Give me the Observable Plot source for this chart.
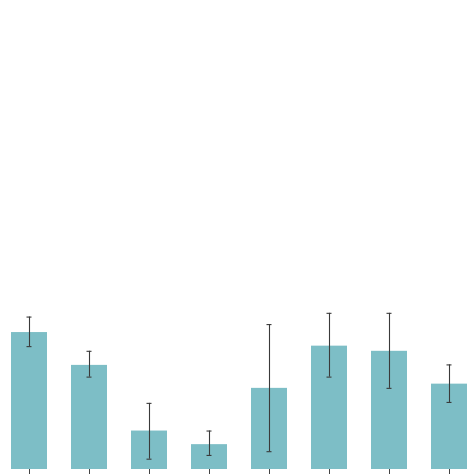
<!DOCTYPE html>
<html>
<head>
<meta charset="utf-8">
<script src="https://cdn.jsdelivr.net/npm/d3@7"></script>
<script src="https://cdn.jsdelivr.net/npm/@observablehq/plot@0.6"></script>
<style>
  html, body { margin: 0; padding: 0; background: #fff; }
  #chart svg { display: block; }
</style>
</head>
<body>
<div id="chart"></div>
<script>
const categories = ["A", "B", "C", "D", "E", "F", "G", "H"];
const values = [29.2, 22.2, 8.2, 5.3, 17.3, 26.3, 25.2, 18.2];
const errLow = [26.2, 19.7, 2.2, 3.0, 3.8, 19.7, 17.3, 14.3];
const errHigh = [32.5, 25.2, 14.1, 8.2, 30.9, 33.3, 33.3, 22.3];

const data = categories.map((c, i) => ({cat: c, value: values[i], lo: errLow[i], hi: errHigh[i]}));

const chart = Plot.plot({
  width: 474,
  height: 474,
  marginTop: 0,
  marginBottom: 5,
  marginLeft: 0,
  marginRight: 0,
  x: {domain: categories, range: [10, 468], paddingInner: 0.4, paddingOuter: 0, align: 0.5},
  y: {domain: [0, 100], axis: null},
  marks: [
    Plot.barY(data, {x: "cat", y: "value", fill: "#7dbec6"}),
    Plot.ruleX(data, {x: "cat", y1: "lo", y2: "hi", stroke: "#3a3a3a", strokeWidth: 1.1}),
    Plot.tickY(data, {x: "cat", y: "lo", stroke: "#3a3a3a", strokeWidth: 1.1, insetLeft: 15.5, insetRight: 15.5}),
    Plot.tickY(data, {x: "cat", y: "hi", stroke: "#3a3a3a", strokeWidth: 1.1, insetLeft: 15.5, insetRight: 15.5}),
    Plot.ruleY([0], {stroke: "#555", strokeWidth: 1, x1: 0, x2: 474}),
    Plot.axisX({tickSize: 6, tickFormat: () => "", stroke: "#444", label: null})
  ]
});
document.getElementById("chart").appendChild(chart);
</script>
</body>
</html>
